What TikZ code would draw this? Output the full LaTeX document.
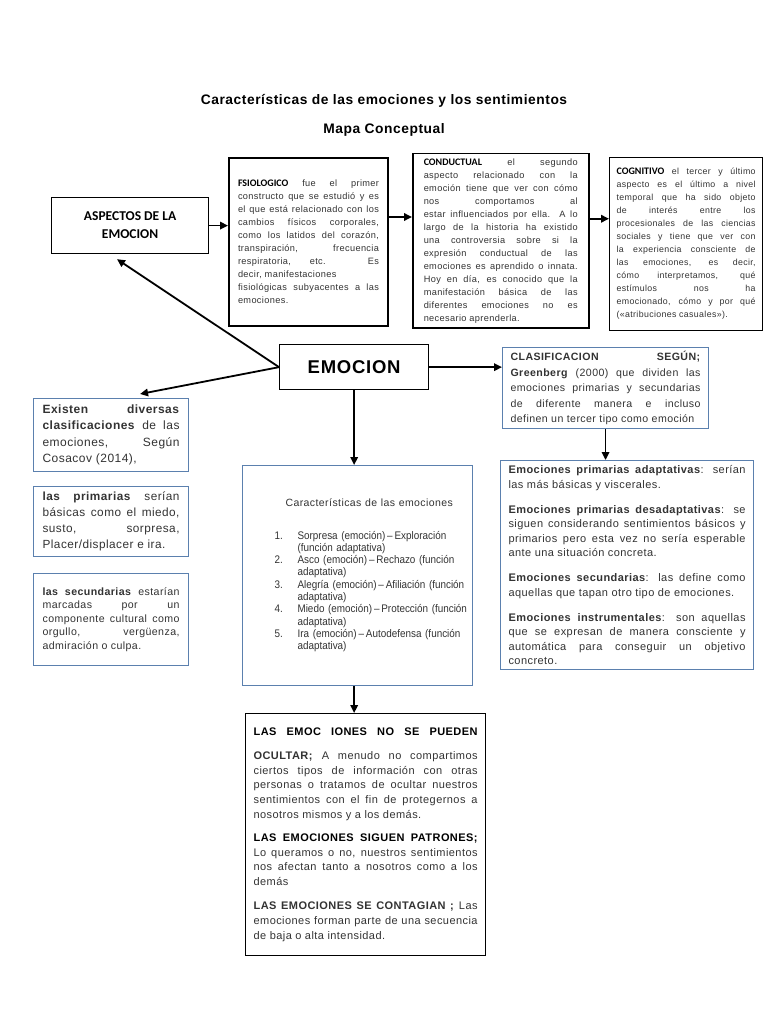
\documentclass[tikz,border=0pt]{standalone}
\usepackage{fontspec}
\setmainfont{Liberation Sans}[LetterSpace=4]
\newfontfamily\calib{Carlito}
\newfontfamily\narrowfont{Liberation Sans}[FakeStretch=0.9]
\usetikzlibrary{arrows.meta}
\definecolor{boxblue}{HTML}{5B80AE}
\definecolor{txtgray}{HTML}{333333}
\hyphenpenalty=10000
\exhyphenpenalty=10000
\begin{document}
\begin{tikzpicture}[x=1pt, y=-1pt, box/.style={draw, rectangle, anchor=north west, align=justify, inner ysep=0pt, text=txtgray}, bluebox/.style={box, draw=boxblue, line width=1.1pt}, blackbox/.style={box, draw=black, line width=1.5pt}, conn/.style={line width=1.8pt, -{Triangle[length=8pt, width=7.5pt]}}]
	\fill[white] (0,0) rectangle (768,1024);
	\node[font=\bfseries\fontsize{13.8}{16}\selectfont] (titulo) at (384,101) {Características de las emociones y los sentimientos};
	\node[font=\bfseries\fontsize{13.8}{16}\selectfont] (subtitulo) at (384,130) {Mapa Conceptual};
	% fila superior
	\node[blackbox, line width=1.2pt, align=center, text=black, minimum width=157pt, minimum height=56pt, font=\calib\bfseries\fontsize{13.5}{18}\selectfont] (aspectos) at (51,197) {ASPECTOS DE LA\\EMOCION};
	\node[blackbox, line width=2pt, text width=141pt, inner xsep=9pt, minimum height=168pt, font=\fontsize{9.2}{13}\selectfont] (fisio) at (228,157) {{\calib\bfseries\color{black}\fontsize{10}{13}\selectfont FSIOLOGICO} fue el primer\linebreak constructo que se estudió y es\linebreak el que está relacionado con los\linebreak cambios físicos corporales,\linebreak como los latidos del corazón,\linebreak transpiración, frecuencia\linebreak respiratoria, etc. Es\linebreak decir, manifestaciones\\ fisiológicas subyacentes a las\linebreak emociones.};
	\node[blackbox, text width=154pt, inner xsep=11pt, minimum height=174pt, font=\fontsize{9.2}{13}\selectfont] (conduct) at (412,153) {{\calib\bfseries\color{black}\fontsize{10}{13}\selectfont CONDUCTUAL} el segundo\linebreak aspecto relacionado con la\linebreak emoción tiene que ver con cómo\linebreak nos comportamos al\linebreak estar influenciados por ella. A lo\linebreak largo de la historia ha existido\linebreak una controversia sobre si la\linebreak expresión conductual de las\linebreak emociones es aprendido o innata.\linebreak Hoy en día, es conocido que la\linebreak manifestación básica de las\linebreak diferentes emociones no es\linebreak necesario aprenderla.};
	\node[blackbox, line width=1.2pt, text width=139pt, inner xsep=7pt, minimum height=173pt, font=\fontsize{8.8}{13}\selectfont] (cognit) at (609,157) {{\calib\bfseries\color{black}\fontsize{10}{13}\selectfont COGNITIVO} el tercer y último\linebreak aspecto es el último a nivel\linebreak temporal que ha sido objeto\linebreak de interés entre los\linebreak procesionales de las ciencias\linebreak sociales y tiene que ver con\linebreak la experiencia consciente de\linebreak las emociones, es decir,\linebreak cómo interpretamos, qué\linebreak estímulos nos ha\linebreak emocionado, cómo y por qué\linebreak («atribuciones casuales»).};
	% centro
	\node[blackbox, line width=1.3pt, align=center, text=black, minimum width=149pt, minimum height=45pt, font=\bfseries\fontsize{18.5}{22}\selectfont] (emocion) at (279,344) {EMOCION};
	\node[bluebox, text width=190pt, inner xsep=8pt, minimum height=81pt, font=\fontsize{10.6}{15.5}\selectfont] (clasif) at (502,347) {\makebox[\linewidth][s]{\textbf{CLASIFICACION SEGÚN;}}\par\textbf{Greenberg} (2000) que dividen las\linebreak emociones primarias y secundarias\linebreak de diferente manera e incluso\linebreak definen un tercer tipo como emoción};
	% columna izquierda
	\node[bluebox, text width=137pt, inner xsep=9pt, minimum height=73pt, font=\fontsize{12}{16.5}\selectfont] (existen) at (33,398) {\textbf{Existen diversas}\linebreak\textbf{clasificaciones} de las\linebreak emociones, Según\linebreak Cosacov (2014),};
	\node[bluebox, text width=137pt, inner xsep=9pt, minimum height=70pt, font=\fontsize{11.8}{16}\selectfont] (primarias) at (33,486) {\textbf{las primarias} serían\linebreak básicas como el miedo,\linebreak susto, sorpresa,\linebreak Placer/displacer e ira.};
	\node[bluebox, text width=137pt, inner xsep=9pt, minimum height=92pt, font=\fontsize{10.6}{13.5}\selectfont] (secundarias) at (33,573) {\textbf{las secundarias} estarían\linebreak marcadas por un\linebreak componente cultural como\linebreak orgullo, vergüenza,\linebreak admiración o culpa.};
	% caracteristicas
	\node[bluebox, align=left, text width=224pt, inner xsep=3pt, minimum height=220pt, font=\narrowfont\fontsize{11}{12.3}\selectfont] (caract) at (242,465) {\hspace*{40pt}{\rmfamily\fontsize{10.5}{12}\selectfont Características de las emociones}\\[20pt]
		\hspace*{29pt}\makebox[23pt][l]{1.}Sorpresa (emoción)\,–\,Exploración\\ \hspace*{52pt}(función adaptativa)\\
		\hspace*{29pt}\makebox[23pt][l]{2.}Asco (emoción)\,–\,Rechazo (función\\ \hspace*{52pt}adaptativa)\\
		\hspace*{29pt}\makebox[23pt][l]{3.}Alegría (emoción)\,–\,Afiliación (función\\ \hspace*{52pt}adaptativa)\\
		\hspace*{29pt}\makebox[23pt][l]{4.}Miedo (emoción)\,–\,Protección (función\\ \hspace*{52pt}adaptativa)\\
		\hspace*{29pt}\makebox[23pt][l]{5.}Ira (emoción)\,–\,Autodefensa (función\\ \hspace*{52pt}adaptativa)};
	\node[blackbox, line width=1.2pt, text width=224pt, inner xsep=8pt, minimum height=242pt, font=\fontsize{11}{14.8}\selectfont] (abajo) at (245,713) {\makebox[\linewidth][s]{\bfseries\color{black}LAS EMOC IONES NO SE PUEDEN}\par\vspace{9pt}\textbf{OCULTAR;} A menudo no compartimos\linebreak ciertos tipos de información con otras\linebreak personas o tratamos de ocultar nuestros\linebreak sentimientos con el fin de protegernos a\linebreak nosotros mismos y a los demás.\par\vspace{8pt}\makebox[\linewidth][s]{\bfseries\color{black}LAS EMOCIONES SIGUEN PATRONES;}\par Lo queramos o no, nuestros sentimientos\linebreak nos afectan tanto a nosotros como a los\linebreak demás\par\vspace{9pt}\textbf{LAS EMOCIONES SE CONTAGIAN ;} Las\linebreak emociones forman parte de una secuencia\linebreak de baja o alta intensidad.};
	% columna derecha
	\node[bluebox, text width=237pt, inner xsep=8pt, minimum height=209pt, font=\fontsize{11}{14.5}\selectfont] (tipos) at (500,460) {\textbf{Emociones primarias adaptativas}: serían\linebreak las más básicas y viscerales.\par\vspace{10.5pt}\textbf{Emociones primarias desadaptativas}: se\linebreak siguen considerando sentimientos básicos y\linebreak primarios pero esta vez no sería esperable\linebreak ante una situación concreta.\par\vspace{10.5pt}\textbf{Emociones secundarias}: las define como\linebreak aquellas que tapan otro tipo de emociones.\par\vspace{10.5pt}\textbf{Emociones instrumentales}: son aquellas\linebreak que se expresan de manera consciente y\linebreak automática para conseguir un objetivo\linebreak concreto.};
	% conectores
	\coordinate (f1) at ([yshift=25pt]fisio.east);
	\coordinate (c1) at ([yshift=22pt]conduct.east);
	\coordinate (a1) at ([xshift=66pt, yshift=-5pt]aspectos.south west);
	\coordinate (e1) at ([xshift=29pt, yshift=4pt]existen.north);
	\draw[conn] (aspectos.east) -- (aspectos.east -| fisio.west);
	\draw[conn] (f1) -- (f1 -| conduct.west);
	\draw[conn] (c1) -- (c1 -| cognit.west);
	\draw[conn] (emocion.west) -- (a1);
	\draw[conn] (emocion.west) -- (e1);
	\draw[conn] (emocion.east) -- (emocion.east -| clasif.west);
	\draw[conn] (emocion.south) -- (emocion.south |- caract.north);
	\draw[conn] (clasif.south) -- (clasif.south |- tipos.north);
	\draw[conn] (emocion.south |- caract.south) -- (emocion.south |- abajo.north);
\end{tikzpicture}
\end{document}
